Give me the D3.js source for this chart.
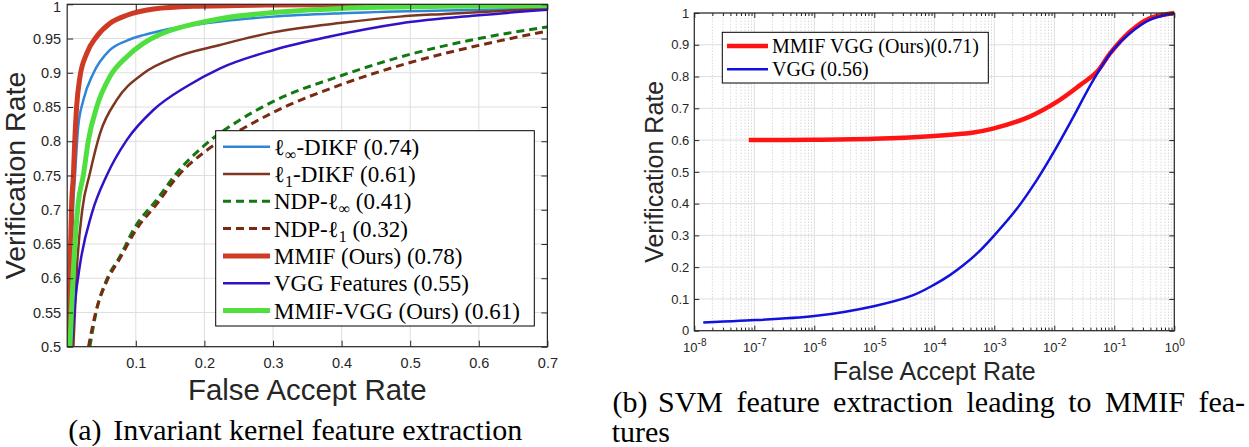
<!DOCTYPE html>
<html>
<head>
<meta charset="utf-8">
<script src="https://cdn.jsdelivr.net/npm/d3@7"></script>
<style>
  body { margin: 0; background: #fff; }
  text { font-family: "Liberation Sans", Arial, sans-serif; fill: #262626; }
</style>
</head>
<body>
<script>
// ---- (a) invariant kernel features, linear FAR axis ----
var farTicksA = [0.1, 0.2, 0.3, 0.4, 0.5, 0.6, 0.7];
var farLabelsA = ["0.1", "0.2", "0.3", "0.4", "0.5", "0.6", "0.7"];
var vrTicksA = [0.5, 0.55, 0.6, 0.65, 0.7, 0.75, 0.8, 0.85, 0.9, 0.95, 1];
var vrLabelsA = ["0.5", "0.55", "0.6", "0.65", "0.7", "0.75", "0.8", "0.85", "0.9", "0.95", "1"];

// [false accept rate, verification rate]
var dikfInf = [[0.004,0.5],[0.006,0.6],[0.0085,0.7],[0.0114,0.75],[0.016,0.821],[0.0235,0.86],[0.038,0.899],
  [0.062,0.933],[0.087,0.947],[0.111,0.955],[0.135,0.961],[0.16,0.966],[0.223,0.975],[0.3,0.982],[0.4,0.987],[0.55,0.991],[0.7,0.994]];
var dikfL1 = [[0.009,0.5],[0.014,0.612],[0.022,0.7],[0.033,0.753],[0.048,0.812],[0.072,0.86],[0.111,0.899],
  [0.16,0.9235],[0.223,0.9406],[0.3,0.959],[0.4,0.973],[0.485,0.982],[0.55,0.986],[0.7,0.994]];
var ndpInf = [[0.033,0.5],[0.043,0.554],[0.0576,0.598],[0.077,0.632],[0.099,0.675],[0.13,0.714],[0.16,0.754],
  [0.2,0.794],[0.25,0.83],[0.3,0.858],[0.4,0.896],[0.5,0.927],[0.6,0.95],[0.7,0.967]];
var ndpL1 = [[0.031,0.5],[0.042,0.552],[0.057,0.594],[0.077,0.629],[0.1,0.67],[0.131,0.709],[0.162,0.75],
  [0.201,0.785],[0.25,0.815],[0.3,0.842],[0.4,0.883],[0.5,0.915],[0.6,0.94],[0.7,0.961]];
var mmif = [[0.001,0.5],[0.004,0.61],[0.0065,0.71],[0.009,0.75],[0.011,0.8],[0.0137,0.85],[0.0186,0.894],
  [0.0284,0.928],[0.043,0.953],[0.062,0.972],[0.087,0.984],[0.126,0.993],[0.184,0.997],[0.3,0.999],[0.5,1.0],[0.7,1.0]];
var vggFeat = [[0.0066,0.5],[0.0114,0.564],[0.019,0.622],[0.036,0.695],[0.0576,0.75],[0.087,0.802],[0.126,0.846],
  [0.174,0.88],[0.223,0.9066],[0.3,0.933],[0.383,0.953],[0.485,0.972],[0.6,0.984],[0.7,0.992]];
var mmifVgg = [[0.004,0.5],[0.009,0.612],[0.016,0.709],[0.0235,0.75],[0.031,0.802],[0.043,0.85],[0.062,0.894],
  [0.087,0.9235],[0.111,0.943],[0.135,0.956],[0.16,0.965],[0.184,0.971],[0.223,0.979],[0.3,0.988],[0.4,0.994],[0.55,0.997],[0.7,0.998]];

var seriesA = [
  { data: dikfInf, color: "#2f86d9", width: 2.5, dash: null, label: ["ℓ", "∞", "-DIKF (0.74)"] },
  { data: dikfL1,  color: "#7e3620", width: 2.5, dash: null, label: ["ℓ", "1", "-DIKF (0.61)"] },
  { data: ndpInf,  color: "#127812", width: 3, dash: "8,5", label: ["NDP-ℓ", "∞", " (0.41)"] },
  { data: ndpL1,   color: "#7a2a12", width: 3, dash: "8,5", label: ["NDP-ℓ", "1", " (0.32)"] },
  { data: mmif,    color: "#cf3a24", width: 5, dash: null, label: ["MMIF (Ours) (0.78)"] },
  { data: vggFeat, color: "#3411c8", width: 2.5, dash: null, label: ["VGG Features (0.55)"] },
  { data: mmifVgg, color: "#4fe040", width: 5, dash: null, label: ["MMIF-VGG (Ours) (0.61)"] }
];

// ---- (b) SVM features, log FAR axis ----
var farTicksB = [1e-8, 1e-7, 1e-6, 1e-5, 1e-4, 1e-3, 1e-2, 1e-1, 1];
var farExpB = ["-8", "-7", "-6", "-5", "-4", "-3", "-2", "-1", "0"];
var vrTicksB = [0, 0.1, 0.2, 0.3, 0.4, 0.5, 0.6, 0.7, 0.8, 0.9, 1];
var vrLabelsB = ["0", "0.1", "0.2", "0.3", "0.4", "0.5", "0.6", "0.7", "0.8", "0.9", "1"];

var svmMmifFar = [8.1e-8, 1e-6, 1e-5, 8.5e-5, 4.5e-4, 9.5e-4, 3.9e-3, 0.011, 0.0269, 0.0513, 0.085, 0.182, 0.389, 1];
var svmMmifVr  = [0.600, 0.601, 0.604, 0.612, 0.624, 0.636, 0.674, 0.72, 0.773, 0.815, 0.873, 0.941, 0.983, 1.0];
var svmVggFar = [1.41e-8, 5.75e-8, 1e-6, 1.02e-5, 4.47e-5, 1e-4, 1.82e-4, 3.0e-4, 5.5e-4, 1e-3, 2.34e-3, 5.1e-3, 9.5e-3,
  0.0209, 0.0447, 0.0955, 0.182, 0.389, 0.955, 1];
var svmVggVr  = [0.026, 0.031, 0.046, 0.078, 0.112, 0.145, 0.175, 0.205, 0.248, 0.30, 0.382, 0.474, 0.558,
  0.674, 0.789, 0.884, 0.936, 0.978, 0.999, 1.0];

var seriesB = [
  { far: svmMmifFar, vr: svmMmifVr, color: "#ff1414", width: 4.5, label: "MMIF VGG (Ours)(0.71)" },
  { far: svmVggFar,  vr: svmVggVr,  color: "#1212dd", width: 2.5, label: "VGG (0.56)" }
];

var serifFont = "'Liberation Serif', 'Times New Roman', 'DejaVu Serif', serif";

var svg = d3.select("body").append("svg")
    .attr("width", 1249)
    .attr("height", 447);

var gridColor = "#dedede";
var axisColor = "#262626";

function styleAxis(g, fontSize) {
    g.select(".domain").remove();
    g.selectAll(".tick line").attr("stroke", axisColor);
    g.selectAll(".tick text").attr("font-size", fontSize).attr("fill", axisColor)
        .style("font-family", "'Liberation Sans', Arial, sans-serif");
}

// ================= panel (a) =================
var xA = d3.scaleLinear().domain([0, 0.7]).range([67.2, 547.4]);
var yA = d3.scaleLinear().domain([0.5, 1]).range([346.7, 4.3]);

var gA = svg.append("g");

// grid
gA.selectAll(".vgrid").data(farTicksA).enter().append("line")
    .attr("x1", d => xA(d)).attr("x2", d => xA(d))
    .attr("y1", yA(0.5)).attr("y2", yA(1))
    .attr("stroke", gridColor);
gA.selectAll(".hgrid").data(vrTicksA).enter().append("line")
    .attr("x1", xA(0)).attr("x2", xA(0.7))
    .attr("y1", d => yA(d)).attr("y2", d => yA(d))
    .attr("stroke", gridColor);

gA.append("clipPath").attr("id", "clipA")
  .append("rect")
    .attr("x", xA(0)).attr("y", yA(1))
    .attr("width", xA(0.7) - xA(0)).attr("height", yA(0.5) - yA(1));

var lineA = d3.line()
    .x(d => xA(d[0]))
    .y(d => yA(d[1]))
    .curve(d3.curveMonotoneX);

gA.append("g").attr("clip-path", "url(#clipA)")
  .selectAll("path").data(seriesA).enter().append("path")
    .attr("d", d => lineA(d.data))
    .attr("fill", "none")
    .attr("stroke", d => d.color)
    .attr("stroke-width", d => d.width)
    .attr("stroke-dasharray", d => d.dash)
    .attr("stroke-linejoin", "round");

// axes (ticks inward)
var axA = gA.append("g").attr("transform", "translate(0," + yA(0.5) + ")")
    .call(d3.axisBottom(xA).tickValues(farTicksA).tickSizeInner(-6).tickSizeOuter(0).tickPadding(11)
        .tickFormat((d, i) => farLabelsA[i]));
styleAxis(axA, 14.5);
var axAt = gA.append("g").attr("transform", "translate(0," + yA(1) + ")")
    .call(d3.axisTop(xA).tickValues(farTicksA).tickSizeInner(-6).tickSizeOuter(0).tickFormat(""));
styleAxis(axAt, 14.5);
var ayA = gA.append("g").attr("transform", "translate(" + xA(0) + ",0)")
    .call(d3.axisLeft(yA).tickValues(vrTicksA).tickSizeInner(-6).tickSizeOuter(0).tickPadding(6)
        .tickFormat((d, i) => vrLabelsA[i]));
styleAxis(ayA, 14.5);
// top label sits a little lower, as in the figure
ayA.selectAll(".tick text").filter(d => d === 1).attr("y", 2.5);
var ayAr = gA.append("g").attr("transform", "translate(" + xA(0.7) + ",0)")
    .call(d3.axisRight(yA).tickValues(vrTicksA).tickSizeInner(-6).tickSizeOuter(0).tickFormat(""));
styleAxis(ayAr, 14.5);

gA.append("rect")
    .attr("x", xA(0)).attr("y", yA(1))
    .attr("width", xA(0.7) - xA(0)).attr("height", yA(0.5) - yA(1))
    .attr("fill", "none").attr("stroke", axisColor).attr("stroke-width", 1.2);

// titles
gA.append("text")
    .attr("x", (xA(0) + xA(0.7)) / 2).attr("y", 400)
    .attr("text-anchor", "middle").attr("font-size", 29.4)
    .text("False Accept Rate");
gA.append("text")
    .attr("transform", "translate(24.5," + ((yA(0.5) + yA(1)) / 2) + ") rotate(-90)")
    .attr("text-anchor", "middle").attr("font-size", 28.5)
    .text("Verification Rate");

// legend
var legA = gA.append("g");
legA.append("rect")
    .attr("x", 215.7).attr("y", 130.7).attr("width", 318.6).attr("height", 195.3)
    .attr("fill", "#fff").attr("stroke", "#000").attr("stroke-width", 1);
var rowA = legA.selectAll(".row").data(seriesA).enter().append("g")
    .attr("transform", (d, i) => "translate(0," + (146.7 + i * 27.3) + ")");
rowA.append("line")
    .attr("x1", 223).attr("x2", 270)
    .attr("stroke", d => d.color)
    .attr("stroke-width", d => d.width)
    .attr("stroke-dasharray", d => d.dash);
rowA.append("text")
    .attr("x", 274).attr("dy", "0.35em")
    .attr("font-size", 23)
    .style("font-family", serifFont)
    .style("fill", "#000")
    .each(function(d) {
        var t = d3.select(this);
        t.append("tspan").text(d.label[0]);
        if (d.label.length > 1) {
            t.append("tspan").attr("dy", 5).attr("font-size", 16).text(d.label[1]);
            t.append("tspan").attr("dy", -5).text(d.label[2]);
        }
    });

// ================= panel (b) =================
var xB = d3.scaleLog().domain([1e-8, 1]).range([694.3, 1174.3]);
var yB = d3.scaleLinear().domain([0, 1]).range([330.7, 13]);

var gB = svg.append("g");

var minorB = [];
farTicksB.slice(0, -1).forEach(function(dec) {
    for (var k = 2; k <= 9; k++) minorB.push(dec * k);
});

gB.selectAll(".mgrid").data(minorB).enter().append("line")
    .attr("x1", d => xB(d)).attr("x2", d => xB(d))
    .attr("y1", yB(0)).attr("y2", yB(1))
    .attr("stroke", "#c8c8c8").attr("stroke-dasharray", "1,2");
gB.selectAll(".vgrid").data(farTicksB).enter().append("line")
    .attr("x1", d => xB(d)).attr("x2", d => xB(d))
    .attr("y1", yB(0)).attr("y2", yB(1))
    .attr("stroke", gridColor);
gB.selectAll(".hgrid").data(vrTicksB).enter().append("line")
    .attr("x1", xB(1e-8)).attr("x2", xB(1))
    .attr("y1", d => yB(d)).attr("y2", d => yB(d))
    .attr("stroke", gridColor);

var lineB = d3.line()
    .x(d => xB(d[0]))
    .y(d => yB(d[1]))
    .curve(d3.curveCatmullRom.alpha(0.5));

gB.selectAll(".curve").data(seriesB).enter().append("path")
    .attr("d", d => lineB(d.far.map((f, i) => [f, d.vr[i]])))
    .attr("fill", "none")
    .attr("stroke", d => d.color)
    .attr("stroke-width", d => d.width)
    .attr("stroke-linejoin", "round");

var axB = gB.append("g").attr("transform", "translate(0," + yB(0) + ")")
    .call(d3.axisBottom(xB).tickValues(farTicksB).tickSizeInner(-5).tickSizeOuter(0).tickPadding(12));
styleAxis(axB, 13);
axB.selectAll(".tick text").each(function(d, i) {
    var t = d3.select(this);
    t.text(null);
    t.append("tspan").text("10");
    t.append("tspan").attr("dy", -5.5).attr("font-size", 10).text(farExpB[i]);
});
var axBm = gB.append("g").attr("transform", "translate(0," + yB(0) + ")")
    .call(d3.axisBottom(xB).tickValues(minorB).tickSizeInner(-3).tickSizeOuter(0).tickFormat(""));
styleAxis(axBm, 13);
var axBt = gB.append("g").attr("transform", "translate(0," + yB(1) + ")")
    .call(d3.axisTop(xB).tickValues(farTicksB).tickSizeInner(-5).tickSizeOuter(0).tickFormat(""));
styleAxis(axBt, 13);
var axBtm = gB.append("g").attr("transform", "translate(0," + yB(1) + ")")
    .call(d3.axisTop(xB).tickValues(minorB).tickSizeInner(-3).tickSizeOuter(0).tickFormat(""));
styleAxis(axBtm, 13);
var ayB = gB.append("g").attr("transform", "translate(" + xB(1e-8) + ",0)")
    .call(d3.axisLeft(yB).tickValues(vrTicksB).tickSizeInner(-5).tickSizeOuter(0).tickPadding(5)
        .tickFormat((d, i) => vrLabelsB[i]));
styleAxis(ayB, 13);
var ayBr = gB.append("g").attr("transform", "translate(" + xB(1) + ",0)")
    .call(d3.axisRight(yB).tickValues(vrTicksB).tickSizeInner(-5).tickSizeOuter(0).tickFormat(""));
styleAxis(ayBr, 13);

gB.append("rect")
    .attr("x", xB(1e-8)).attr("y", yB(1))
    .attr("width", xB(1) - xB(1e-8)).attr("height", yB(0) - yB(1))
    .attr("fill", "none").attr("stroke", axisColor).attr("stroke-width", 1.2);

gB.append("text")
    .attr("x", 934.3).attr("y", 380)
    .attr("text-anchor", "middle").attr("font-size", 25)
    .text("False Accept Rate");
gB.append("text")
    .attr("transform", "translate(663.3," + ((yB(0) + yB(1)) / 2) + ") rotate(-90)")
    .attr("text-anchor", "middle").attr("font-size", 25)
    .text("Verification Rate");

var legB = gB.append("g");
legB.append("rect")
    .attr("x", 722.3).attr("y", 32.3).attr("width", 266).attr("height", 50.7)
    .attr("fill", "#fff").attr("stroke", "#000").attr("stroke-width", 1);
var rowB = legB.selectAll(".row").data(seriesB).enter().append("g")
    .attr("transform", (d, i) => "translate(0," + (46 + i * 23.3) + ")");
rowB.append("line")
    .attr("x1", 727).attr("x2", 768)
    .attr("stroke", d => d.color)
    .attr("stroke-width", d => d.width);
rowB.append("text")
    .attr("x", 772).attr("dy", "0.35em")
    .attr("font-size", 20)
    .style("font-family", serifFont)
    .style("fill", "#000")
    .text(d => d.label);

// ================= captions =================
function caption(x, y, str) {
    return svg.append("text")
        .attr("x", x).attr("y", y)
        .attr("font-size", 30)
        .style("font-family", serifFont)
        .style("fill", "#000")
        .text(str);
}
function spreadWords(sel, target) {
    var w = sel.node().getComputedTextLength();
    var gaps = (sel.text().match(/ /g) || []).length;
    if (gaps > 0 && target > w) sel.style("word-spacing", ((target - w) / gaps) + "px");
}

caption(68.3, 440, "(a)");
caption(113.3, 440, "Invariant kernel feature extraction");

caption(612.5, 412, "(b)");
var capB = caption(658, 412, "SVM feature extraction leading to MMIF fea-");
spreadWords(capB, 1245 - 658);
caption(611.7, 442, "tures");
</script>
</body>
</html>
